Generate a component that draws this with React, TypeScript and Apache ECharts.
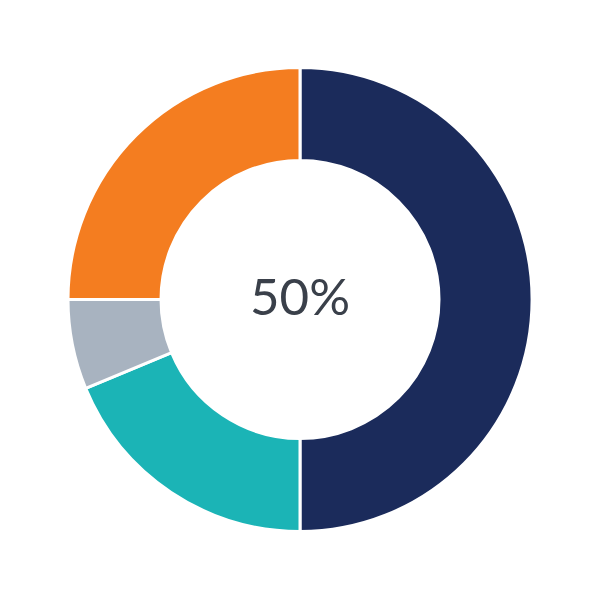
import React, { useEffect, useRef } from "react";
import * as echarts from "echarts";

const categories = ["A", "B", "C", "D"];
const values = [8, 3, 1, 4];
const colors = ["#1b2b5b", "#1bb4b6", "#a8b3c0", "#f47d20"];
const centerLabel = "50%";

export default function App() {
  const ref = useRef<HTMLDivElement>(null);
  useEffect(() => {
    document.body.style.margin = "0";
    const chart = echarts.init(ref.current!, null, { renderer: "svg" });
    chart.setOption({
      animation: false,
      backgroundColor: "#ffffff",
      graphic: [
        {
          type: "text",
          x: 300,
          y: 295,
          style: {
            text: centerLabel,
            align: "center",
            verticalAlign: "middle",
            fontFamily: "Lato",
            fontWeight: "normal",
            fontSize: 51,
            fill: "#3a404a",
          },
        },
      ],
      series: [
        {
          type: "pie",
          center: ["50%", "50%"],
          radius: [139, 232],
          startAngle: 90,
          clockwise: true,
          label: { show: false },
          labelLine: { show: false },
          emphasis: { disabled: true },
          itemStyle: { borderColor: "#ffffff", borderWidth: 3 },
          data: categories.map((c, i) => ({
            name: c,
            value: values[i],
            itemStyle: { color: colors[i] },
          })),
        },
      ],
    });
    return () => chart.dispose();
  }, []);
  return <div ref={ref} style={{ width: 600, height: 599 }} />;
}
